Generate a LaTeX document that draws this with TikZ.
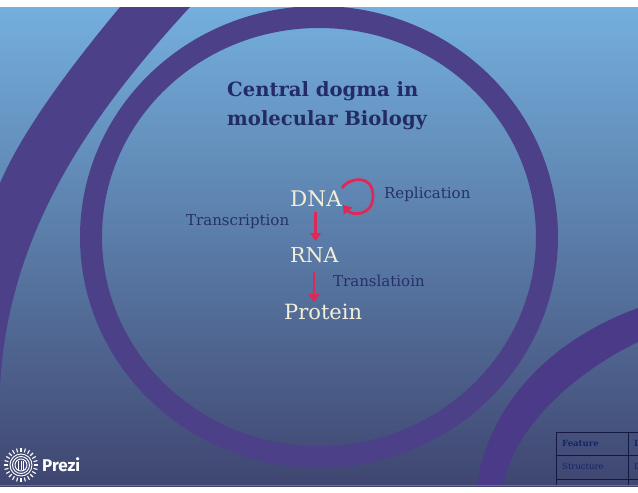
\documentclass[tikz,border=0pt]{standalone}
\usepackage{fontspec}
\setmainfont{DejaVu Serif}
\newfontfamily\logofont{Fira Sans}
\usetikzlibrary{arrows.meta}
\definecolor{bgtop}{HTML}{74AFDD}
\definecolor{bgbot}{HTML}{3F4670}
\definecolor{ringc}{HTML}{4C4189}
\definecolor{bandc}{HTML}{4B3A88}
\definecolor{titlec}{HTML}{232B66}
\definecolor{labc}{HTML}{26306B}
\definecolor{molc}{HTML}{F2EFD8}
\definecolor{arrc}{HTML}{E0275A}
\definecolor{tabc}{HTML}{14246A}
\definecolor{tabl}{HTML}{12183F}
\tikzset{
 title/.style={anchor=base west,text=titlec,font=\fontsize{19.6}{20}\selectfont\bfseries,inner sep=0pt},
 lab/.style={anchor=base west,text=labc,font=\fontsize{15}{15}\selectfont,inner sep=0pt},
 mol/.style={anchor=base west,text=molc,inner sep=0pt},
 arr/.style={draw=arrc,line width=2.4pt,-{Triangle[length=8pt,width=11pt]}},
 tab/.style={anchor=base west,text=tabc,inner sep=0pt,font=\fontsize{8.5}{9}\selectfont},
}
\begin{document}
\begin{tikzpicture}[x=1pt,y=-1pt]
\useasboundingbox (0,0) rectangle (638,493);
\fill[white] (0,0) rectangle (638,493);
\begin{scope}
\clip (0,7) rectangle (638,486);
\shade[top color=bgtop,bottom color=bgbot] (0,7) rectangle (638,486);
% left band
\fill[ringc] (120,7) .. controls (80,55) and (25,125) .. (0,183) -- (0,387) .. controls (8,225) and (100,105) .. (190,7) -- cycle;
% ring
\draw[ringc,line width=22pt] (319,237) ellipse[x radius=228,y radius=220];
% lower right band
\fill[bandc] (477,486) .. controls (488,405) and (550,340) .. (638,308) -- (638,342) .. controls (570,375) and (513,430) .. (503,486) -- cycle;
\end{scope}
\node[title] (t1) at (227,96) {Central dogma in};
\node[title] (t2) at (227,125) {molecular Biology};
\node[mol,font=\fontsize{21.5}{22}\selectfont] (dna) at (290,206) {DNA};
\node[mol,font=\fontsize{20.5}{21}\selectfont] (rna) at (290,262) {RNA};
\node[mol,font=\fontsize{21}{21}\selectfont] (prot) at (284,319) {Protein};
\node[lab] (rep) at (384,198) {Replication};
\node[lab] (trc) at (186,225) {Transcription};
\node[lab] (trl) at (333,286) {Translatioin};
\coordinate (d1) at (315.5,212);
\coordinate (r1) at (315.5,241);
\coordinate (r2) at (314,272);
\coordinate (p1) at (314,302);
\draw[arr] (d1) -- (r1);
\draw[arr] (r2) -- (p1);
\coordinate (la) at (342,188);
\coordinate (lb) at (343,205);
\draw[arr,line width=2.8pt] (la) .. controls (348,178) and (373,173) .. (373,196) .. controls (373,216) and (352,216) .. (lb);
% logo
\foreach \a in {0,15,...,345} \draw[white,line width=1.1pt] (21,465)++(\a:13)--++(\a:4);
\draw[white,line width=0.9pt] (21,465) circle[radius=11];
\draw[white,line width=0.9pt] (21,465) circle[radius=8.5];
\draw[white,line width=0.9pt] (21,465) circle[radius=6];
\foreach \d in {-2.2,0,2.2} \draw[white,line width=0.8pt] (21+\d,460.5)--(21+\d,469.5);
\node[anchor=base west,text=white,inner sep=0pt,font=\logofont\bfseries\fontsize{17}{17}\selectfont] (logo) at (42,471) {Prezi};
% table
\begin{scope}
\clip (0,0) rectangle (638,486);
\draw[tabl,line width=0.7pt] (556.5,432) -- (638,432) (556.5,455) -- (638,455) (556.5,479) -- (638,479) (556.5,432) -- (556.5,486) (628,432) -- (628,486);
\node[tab,font=\fontsize{8.5}{9}\selectfont\bfseries] (f) at (562,446) {Feature};
\node[tab] (s) at (562,469.5) {Structure};
\node[tab,font=\fontsize{8.5}{9}\selectfont\bfseries] (e) at (634,446) {D};
\node[tab] (g) at (634,469.5) {D};
\end{scope}
\draw[black!55,line width=0.5pt] (0,485.7) -- (638,485.7);
\end{tikzpicture}
\end{document}
